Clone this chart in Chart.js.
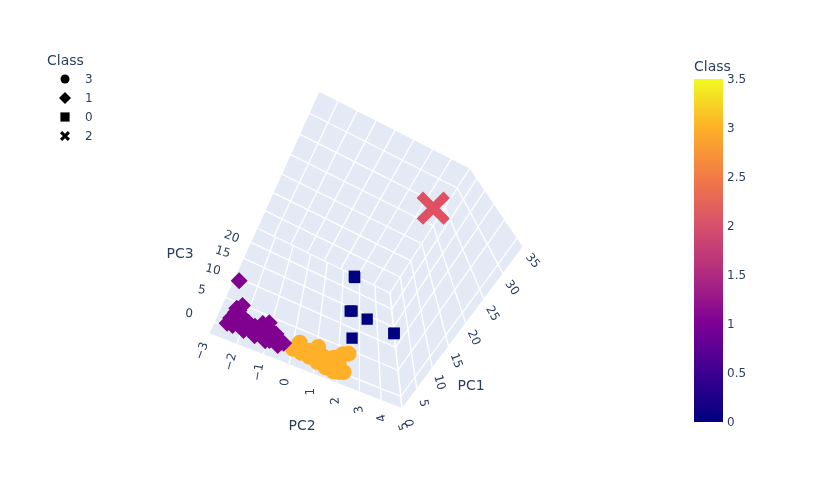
<!DOCTYPE html>
<html>
<head>
<meta charset="utf-8">
<script src="https://cdn.jsdelivr.net/npm/chart.js@4/dist/chart.umd.js"></script>
<style>
body { margin: 0; background: #fff; }
canvas { display: block; }
</style>
</head>
<body>
<canvas id="chart" width="840" height="486"></canvas>
<script>
// values, one list per class and axis
const class3Pc1 = [1.36, 1.99, 3.15, 2.59, 0.1, 1.2, 0.51, 0.1, 0.1, 0.1, 0.1, 0.66, 0.1, 0.1, 0.1, 0.24, 0.66, 0.01, 0.35, 0.43, 0.72];
const class3Pc2 = [0.2, 0.92, 2.13, 1.94, 2.28, 1.71, 1.45, 0.07, 0.42, 0.77, 1.12, 0.72, 1.49, 1.83, 2.05, 1.82, 1.23, 1.59, 0.46, 2.0, 1.05];
const class3Pc3 = [0.94, 0.94, 0.94, 0.94, 0.12, 0.94, 0.94, 0.58, 0.47, 0.35, 0, 0.94, -0.35, -0.47, -0.24, 0.94, 0.94, 0.94, 0.94, 0.94, 0.94];

const class1Pc1 = [7.6, 3.71, 2.02, 0.67, 0.1, 0.19, 0.54, 0.29, 2.69, 1.19, 0.1, 0.22, 0.1, 0.03, 0.1, 0.1, 0.1, 0.1, 2.61, 1.06, 0.59, 0.5, 0.08, 1.5, 1.46, 0.18, 0.43, 1.15, 2.06, 2.8, 1.26, 1.8, 1.22, 0.99, 0.32, 0.1, 0.1];
const class1Pc2 = [-2.8, -2.33, -2.45, -2.52, -2.56, -2.26, -1.91, -1.55, -1.19, -1.33, -1.17, -0.82, -0.46, -0.34, -2.35, -1.92, -1.48, -1.05, -2.37, -2.33, -2.17, -1.74, -1.37, -1.18, -1.0, -0.65, -1.01, -0.77, -1.39, -2.47, -2.44, -2.18, -1.88, -1.6, -1.26, -0.9, -0.55];
const class1Pc3 = [0.94, 0.94, 0.94, 0.94, 0.35, 0.94, 0.94, 0.94, 0.94, 0.94, 0.47, 0.94, 0.82, 0.94, 0.35, 0.23, 0.12, 0, 0.94, 0.94, 0.94, 0.94, 0.94, 0.94, 0.94, 0.94, 0.94, 0.94, 0.94, 0.94, 0.94, 0.94, 0.94, 0.94, 0.94, 0.36, 0.05];

const class0Pc1 = [13.08, 12.9, 6.46, 6.62, 6.41, 1.35, 6.1, 5.95];
const class0Pc2 = [1.16, 1.2, 1.77, 1.84, 2.6, 2.48, 4.0, 4.0];
const class0Pc3 = [6.22, 6.22, 6.22, 6.22, 6.22, 6.22, 6.22, 6.22];

const class2Pc1 = [30.3];
const class2Pc2 = [2.46];
const class2Pc3 = [6.22];

const pc1Ticks = [0, 5, 10, 15, 20, 25, 30, 35];
const pc2Ticks = [-3, -2, -1, 0, 1, 2, 3, 4, 5];
const pc3Ticks = [0, 5, 10, 15, 20];
const colorbarTicks = [0, 0.5, 1, 1.5, 2, 2.5, 3, 3.5];
const colorbarStops = ['#000080', '#3c0090', '#7c0096', '#b02a80', '#d6506c', '#f27a45', '#feb028', '#f0f921'];

const textColor = '#2a3f5f';
const font = '"DejaVu Sans", verdana, sans-serif';

// camera: the far corner of the box and its three neighbours on screen,
// the rest comes from the perspective weights
const corner = [390, 293];
const pc1End = [470, 168];
const pc2End = [257, 228];
const pc3End = [402, 408];
const markWeights = [-0.123, -0.1, -0.285];
const topPaneWeights = [-0.126, -0.017, -0.285];
const sidePaneWeights = [-0.12, -0.06, -0.286];
const frontPaneWeights = [-0.123, -0.108, -0.284];

function project(pc1, pc2, pc3, w) {
    const u = pc1 / 35;
    const v = (5 - pc2) / 8;
    const t = (25 - pc3) / 27;
    const d = 1 + w[0] * u + w[1] * v + w[2] * t;
    const at = i => (corner[i]
        + u * (pc1End[i] * (1 + w[0]) - corner[i])
        + v * (pc2End[i] * (1 + w[1]) - corner[i])
        + t * (pc3End[i] * (1 + w[2]) - corner[i])) / d;
    return {x: at(0), y: at(1)};
}

function points(pc1, pc2, pc3) {
    return pc1.map((v, i) => project(v, pc2[i], pc3[i], markWeights));
}

function line(ctx, p, q) {
    ctx.beginPath();
    ctx.moveTo(p.x, p.y);
    ctx.lineTo(q.x, q.y);
    ctx.stroke();
}

function drawPanes(ctx) {
    const w1 = topPaneWeights, w2 = sidePaneWeights, w3 = frontPaneWeights;
    const panes = [
        [project(0, 5, 25, w1), project(35, 5, 25, w1), project(35, -3, 25, w1), project(0, -3, 25, w1)],
        [project(0, 5, 25, w2), project(35, 5, 25, w2), project(35, 5, -2, w2), project(0, 5, -2, w2)],
        [project(0, 5, 25, w3), project(0, -3, 25, w3), project(0, -3, -2, w3), project(0, 5, -2, w3)]
    ];
    ctx.fillStyle = '#e3eaf5';
    panes.forEach(p => {
        ctx.beginPath();
        p.forEach((c, i) => i ? ctx.lineTo(c.x, c.y) : ctx.moveTo(c.x, c.y));
        ctx.closePath();
        ctx.fill();
    });

    ctx.strokeStyle = '#fff';
    ctx.lineWidth = 1.3;
    pc1Ticks.forEach(v => {
        line(ctx, project(v, 5, 25, w1), project(v, -3, 25, w1));
        line(ctx, project(v, 5, 25, w2), project(v, 5, -2, w2));
    });
    pc2Ticks.forEach(v => {
        line(ctx, project(0, v, 25, w1), project(35, v, 25, w1));
        line(ctx, project(0, v, 25, w3), project(0, v, -2, w3));
    });
    pc3Ticks.forEach(v => {
        line(ctx, project(0, 5, v, w2), project(35, 5, v, w2));
        line(ctx, project(0, 5, v, w3), project(0, -3, v, w3));
    });
}

function text(ctx, str, x, y, size, angle, align) {
    ctx.save();
    ctx.translate(x, y + 1);
    ctx.rotate((angle || 0) * Math.PI / 180);
    ctx.font = size + 'px ' + font;
    ctx.fillStyle = textColor;
    ctx.textAlign = align || 'center';
    ctx.textBaseline = 'middle';
    ctx.fillText(str, 0, 0);
    ctx.restore();
}

function drawAxisLabels(ctx) {
    pc1Ticks.forEach((v, i) => {
        const p = project(v, 5, -2, sidePaneWeights);
        text(ctx, String(v), p.x + 6 + 0.1 * v, p.y + 14, 12, 85 - i * 5);
    });
    pc2Ticks.forEach((v, i) => {
        const p = project(0, v, -2, frontPaneWeights);
        const s = v < 0 ? '\u2212' + (-v) : String(v);
        text(ctx, s, p.x - 3.6 + 1.125 * v, p.y + 17, 12, -70 - i * 5);
    });
    pc3Ticks.forEach((v, i) => {
        const p = project(0, -3, v, frontPaneWeights);
        text(ctx, String(v), p.x - 25 + 0.3 * v, p.y - 9 + 0.15 * v, 12, 5 + i * 4);
    });
    text(ctx, 'PC1', 471, 385, 14);
    text(ctx, 'PC2', 302, 425, 14);
    text(ctx, 'PC3', 180, 253, 14);
}

function drawLegend(chart) {
    const ctx = chart.ctx;
    text(ctx, 'Class', 47, 60, 14, 0, 'left');
    chart.data.datasets.forEach((ds, i) => {
        const y = 79 + i * 19;
        ctx.fillStyle = '#000';
        ctx.strokeStyle = '#000';
        ctx.lineWidth = ds.legendBorder;
        Chart.helpers.drawPoint(ctx, {
            pointStyle: ds.pointStyle,
            radius: ds.legendRadius,
            rotation: 0,
            borderWidth: ds.legendBorder
        }, 65, y);
        text(ctx, ds.label, 85, y, 12, 0, 'left');
    });
}

function drawColorbar(ctx) {
    const grad = ctx.createLinearGradient(0, 422, 0, 79);
    colorbarStops.forEach((c, i) => grad.addColorStop(i / (colorbarStops.length - 1), c));
    ctx.fillStyle = grad;
    ctx.fillRect(694, 79, 29, 343);
    colorbarTicks.forEach(v => {
        text(ctx, String(v), 727, 422 - 343 * v / 3.5, 12, 0, 'left');
    });
    text(ctx, 'Class', 694, 66, 14, 0, 'left');
}

const scenePlugin = {
    id: 'scene',
    beforeDatasetsDraw(chart) {
        drawPanes(chart.ctx);
        drawAxisLabels(chart.ctx);
    },
    afterDatasetsDraw(chart) {
        drawLegend(chart);
        drawColorbar(chart.ctx);
    }
};

new Chart(document.getElementById('chart').getContext('2d'), {
    type: 'scatter',
    data: {
        datasets: [{
            label: '3',
            data: points(class3Pc1, class3Pc2, class3Pc3),
            pointStyle: 'circle',
            pointRadius: 8,
            backgroundColor: '#ffb029',
            borderWidth: 0,
            order: 2,
            legendRadius: 4.5,
            legendBorder: 0
        }, {
            label: '1',
            data: points(class1Pc1, class1Pc2, class1Pc3),
            pointStyle: 'rectRot',
            pointRadius: 8.5,
            backgroundColor: '#800090',
            borderWidth: 0,
            order: 1,
            legendRadius: 6,
            legendBorder: 0
        }, {
            label: '0',
            data: points(class0Pc1, class0Pc2, class0Pc3),
            pointStyle: 'rect',
            pointRadius: 8,
            backgroundColor: '#000080',
            borderWidth: 0,
            order: 3,
            legendRadius: 6.5,
            legendBorder: 0
        }, {
            label: '2',
            data: points(class2Pc1, class2Pc2, class2Pc3),
            pointStyle: 'crossRot',
            pointRadius: 19,
            backgroundColor: '#e04f62',
            borderColor: '#e04f62',
            borderWidth: 9,
            order: 4,
            legendRadius: 5.5,
            legendBorder: 3
        }]
    },
    options: {
        responsive: false,
        animation: false,
        events: [],
        layout: {padding: 0, autoPadding: false},
        plugins: {legend: {display: false}, tooltip: {enabled: false}},
        scales: {
            x: {type: 'linear', display: false, min: 0, max: 840},
            y: {type: 'linear', display: false, min: 0, max: 486, reverse: true}
        }
    },
    plugins: [scenePlugin]
});
</script>
</body>
</html>
